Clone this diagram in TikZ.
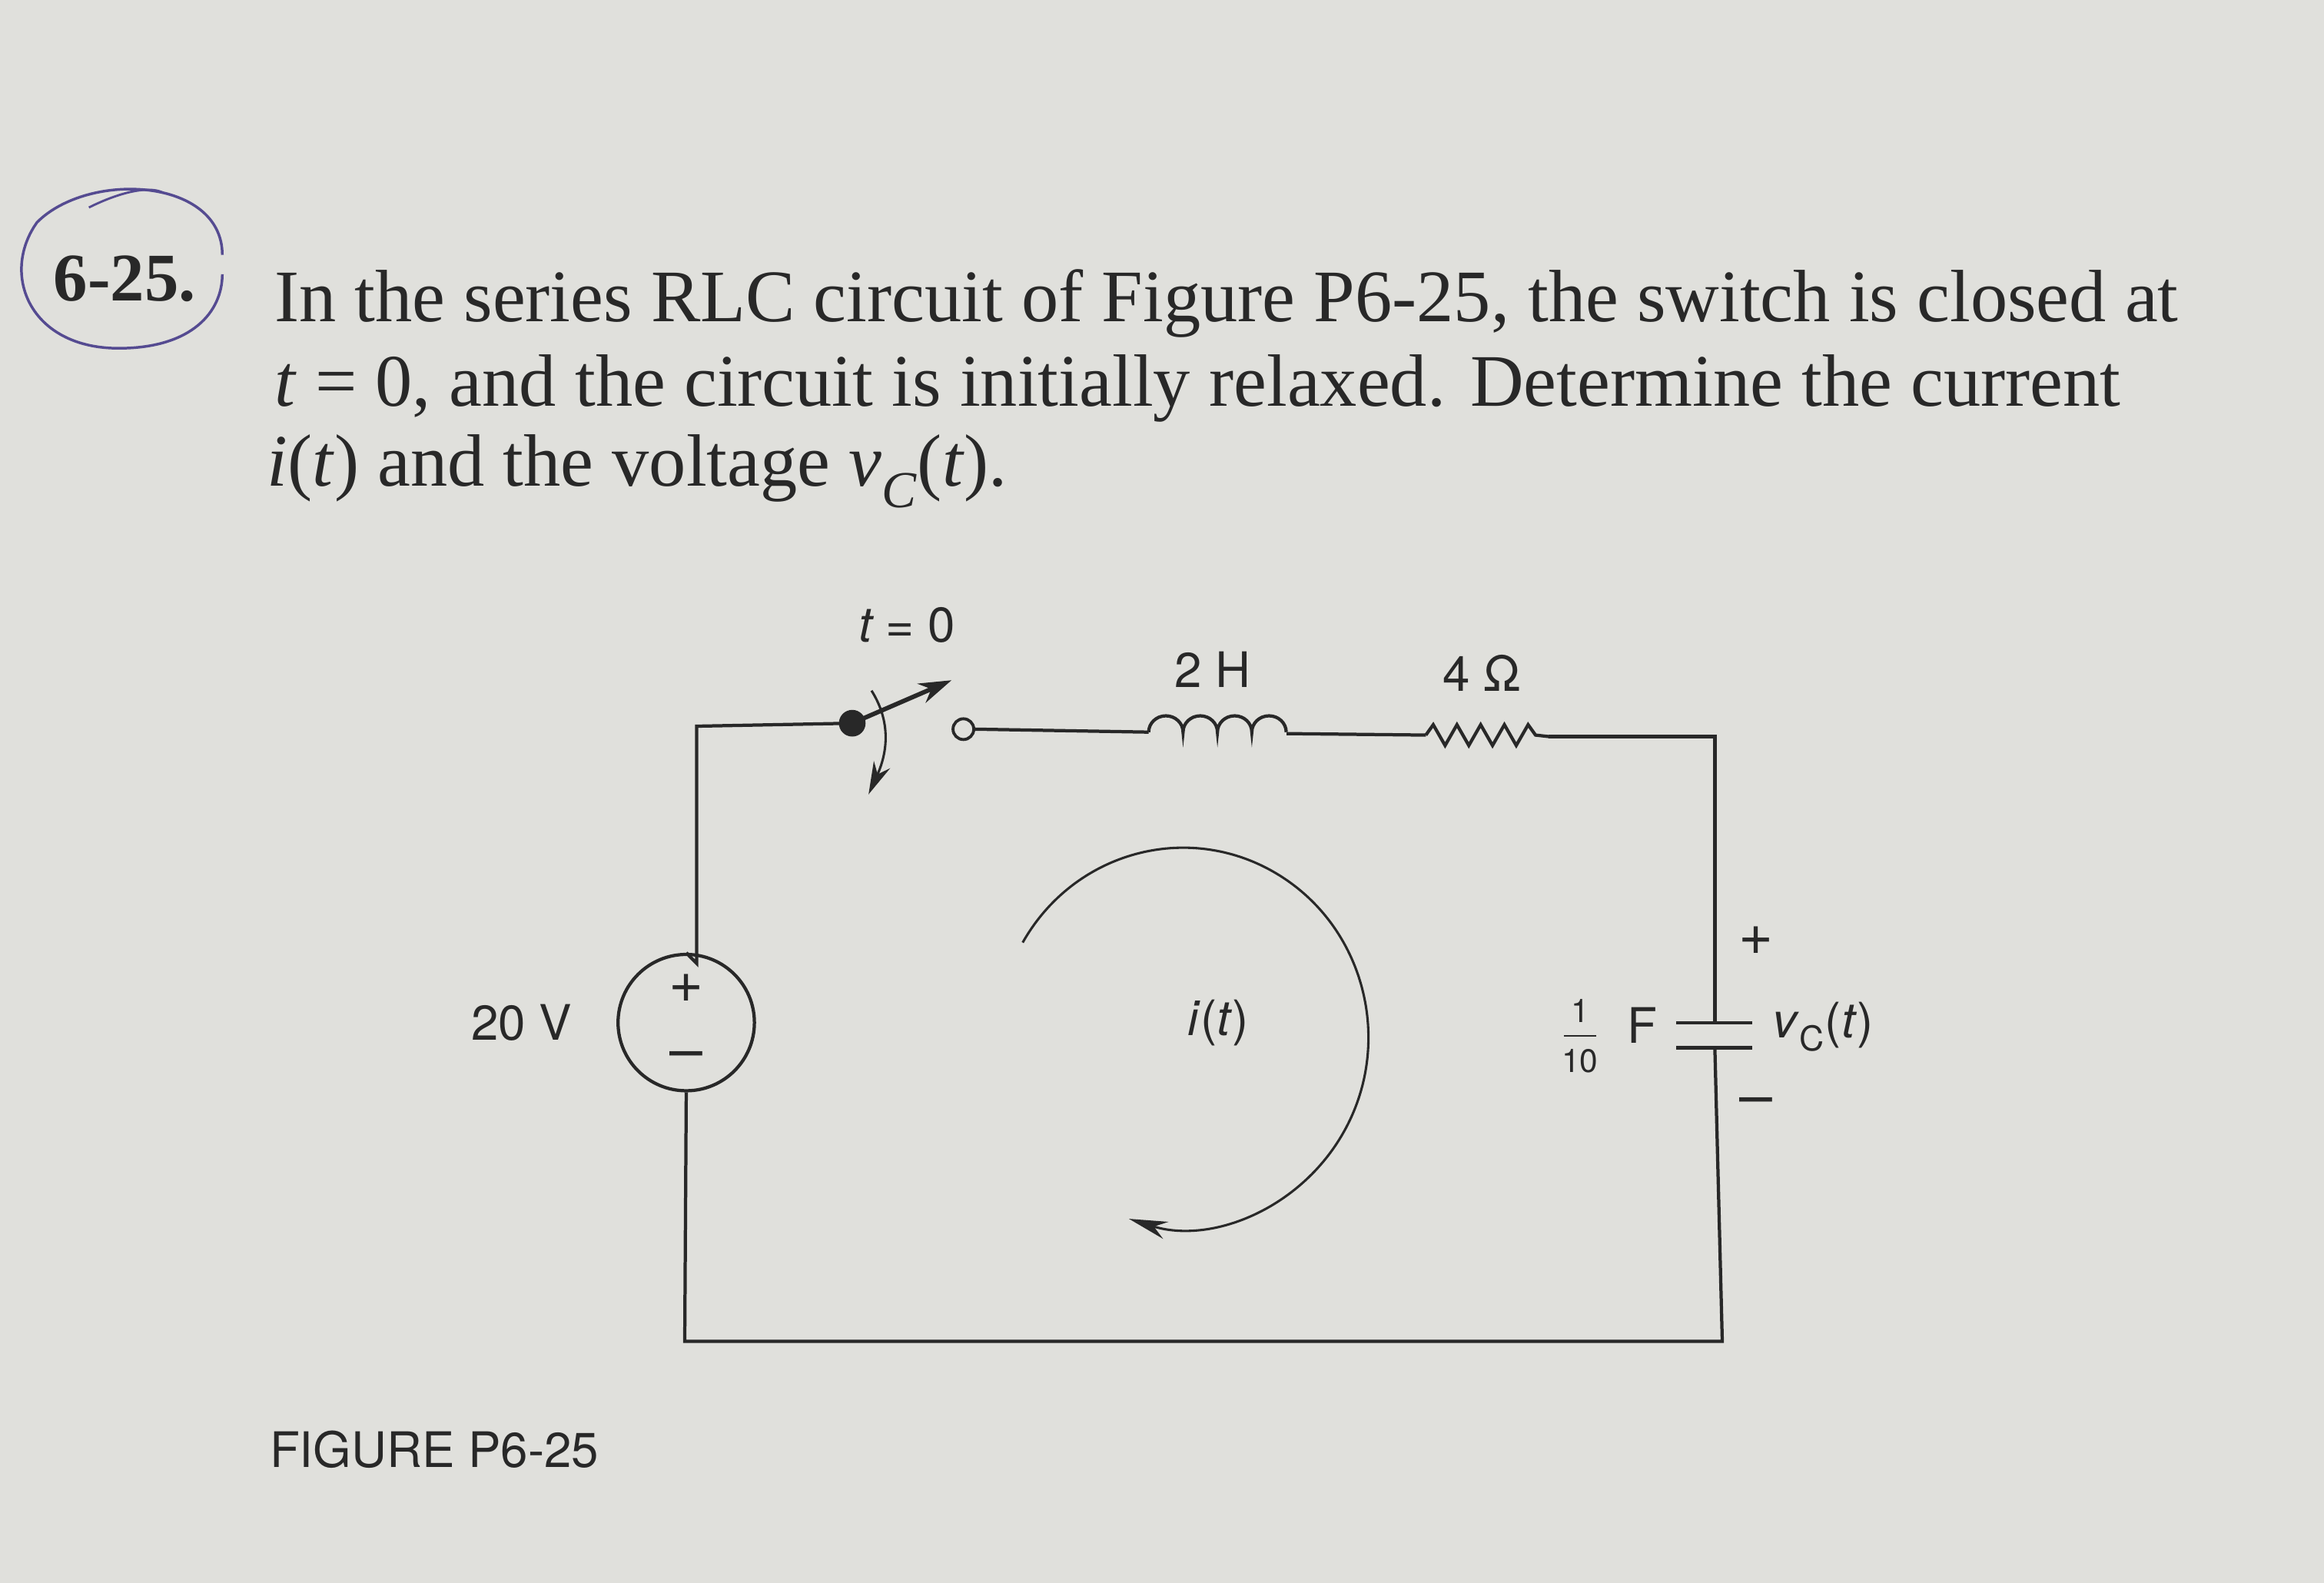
\documentclass[tikz,border=0pt]{standalone}
\usepackage{fontspec}
\setmainfont{Liberation Serif}
\newfontfamily\circfont{TeX Gyre Heros}
\usetikzlibrary{arrows.meta}
\definecolor{paper}{RGB}{224,224,220}
\definecolor{ink}{RGB}{40,40,40}
\definecolor{pen}{RGB}{85,75,145}
\begin{document}
\begin{tikzpicture}[x=1pt,y=-1pt,
  wire/.style={ink,line width=2.2pt},
  lbl/.style={ink,font=\circfont\fontsize{33}{38}\selectfont,inner sep=0pt},
  sign/.style={ink,font=\circfont\fontsize{40}{44}\selectfont,inner sep=0pt},
  small/.style={ink,font=\circfont\fontsize{22}{26}\selectfont,inner sep=0pt},
  txt/.style={ink,font=\fontsize{50}{56}\selectfont,inner sep=0pt,anchor=west}]
\fill[paper] (0,0) rectangle (1568,1068);
\useasboundingbox (0,0) rectangle (1568,1068);
% header
\node[txt,font=\bfseries\fontsize{46}{56}\selectfont] (num) at (36,188) {6-25.};
\draw[pen,line width=1.8pt] (150,172) .. controls (150,120) and (60,115) .. (25,150) .. controls (0,185) and (20,235) .. (80,235) .. controls (130,235) and (150,210) .. (150,185);
\draw[pen,line width=1.5pt] (60,140) .. controls (80,130) and (100,125) .. (110,130);
\node[txt] (l1) at (185,205) {In the series RLC circuit of Figure P6-25, the switch is closed at};
\node[txt] (l2) at (185,262) {\textit{t} = 0, and the circuit is initially relaxed. Determine the current};
\node[txt] (l3) at (180,318) {\textit{i}(\textit{t}) and the voltage \textit{v}\textsubscript{\textit{C}}(\textit{t}).};
% circuit coordinates
\coordinate (tl) at (470,490);
\coordinate (bl) at (462,905);
\coordinate (br) at (1162,905);
\coordinate (tr) at (1157,497);
\coordinate (piv) at (575,488);
\coordinate (oc) at (650,492);
\coordinate (la) at (775,494);
\coordinate (lb) at (868,495);
\coordinate (ra) at (962,496);
\coordinate (rb) at (1045,497);
\node[circle,draw=ink,line width=2.2pt,minimum size=92pt,inner sep=0pt] (src) at (463,690) {};
\node[sign] (sp) at (463,667) {+};
\node[sign] (sm) at (463,716) {\char"2013};
\draw[wire] (src.north) -- (470,650) -- (tl) -- (piv);
\draw[wire] (src.south) -- (bl) -- (br) -- (1157,707);
\fill[ink] (piv) circle (9pt);
\node[circle,draw=ink,line width=2pt,minimum size=14pt,inner sep=0pt] (ocn) at (oc) {};
\draw[ink,line width=3pt,-{Stealth[length=22pt,width=14pt]}] (piv) -- (642,459);
\draw[ink,line width=1.6pt,-{Stealth[length=22pt,width=12pt]}] (588,466) .. controls (600,485) and (600,505) .. (586,536);
\draw[wire] (ocn.east) -- (la);
\draw[wire] (la) \foreach \k in {0,1,2,3} { arc[start angle=180,end angle=360,x radius=11.6,y radius=11] } ;
\draw[wire] (lb) -- (ra);
\draw[wire] (ra) -- ++(5,-7) -- ++(8,14) -- ++(8,-14) -- ++(8,14) -- ++(8,-14) -- ++(8,14) -- ++(8,-14) -- ++(8,14) -- ++(8,-14) -- ++(5,7) -- (rb);
\draw[wire] (rb) -- (tr) -- (1157,690);
\draw[wire] (1131,690) -- (1182,690);
\draw[wire] (1131,707) -- (1182,707);
% labels
\node[lbl] (t0) at (612,422) {\itshape t \upshape= 0};
\node[lbl] (lh) at (818,452) {2 H};
\node[lbl] (lr) at (1000,454) {4 \char"03A9};
\node[lbl] (lv) at (352,690) {20 V};
\node[small] (f1) at (1066,682) {1};
\node[small] (f2) at (1066,716) {10};
\draw[ink,line width=1.3pt] (1055,699) -- (1077,699);
\node[lbl] (lf) at (1108,692) {F};
\node[sign] (cp) at (1185,635) {+};
\node[sign] (cm) at (1185,747) {\char"2013};
\node[lbl,anchor=west] (vc) at (1196,693) {\textit{v}\textsubscript{C}(\textit{t})};
\node[lbl] (it) at (822,690) {\textit{i}(\textit{t})};
\draw[ink,line width=1.6pt,-{Stealth[length=26pt,width=12pt]}] (690,636) arc[start angle=210,end angle=467,x radius=125,y radius=128];
\node[ink,font=\circfont\fontsize{33}{38}\selectfont,inner sep=0pt] (fig) at (293,978) {FIGURE P6-25};
\end{tikzpicture}
\end{document}
